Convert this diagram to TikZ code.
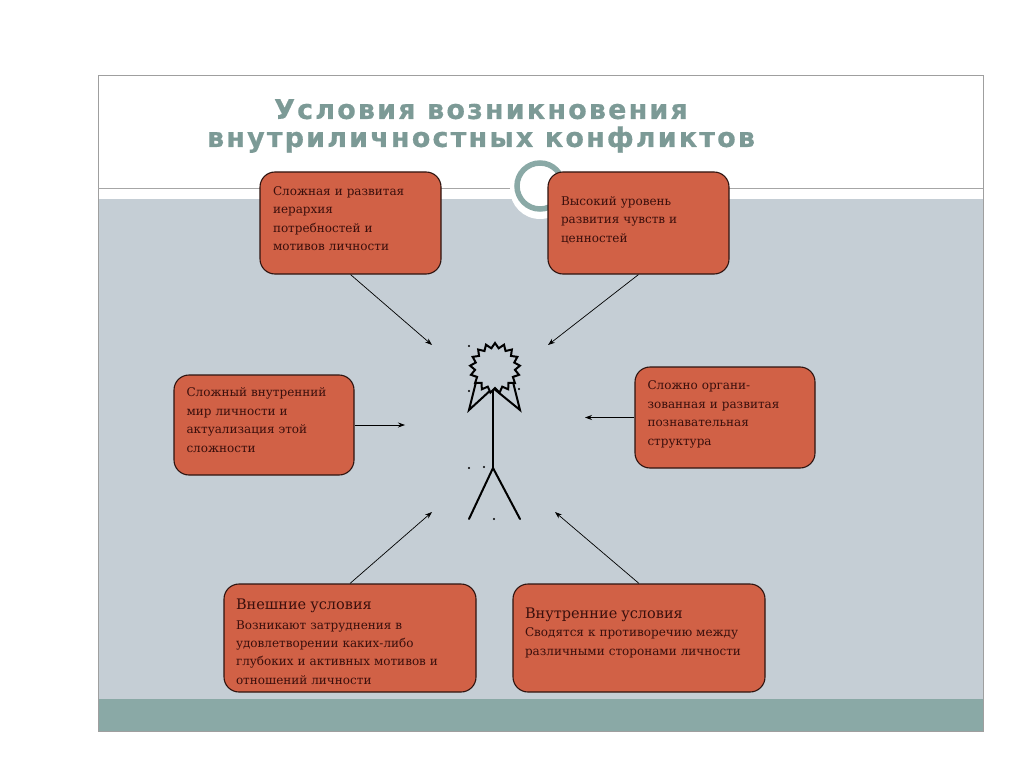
\documentclass[tikz,border=0pt]{standalone}
\usepackage{fontspec}
\setmainfont{DejaVu Serif}
\newfontfamily\titlefont[LetterSpace=8,FakeBold=0.6]{DejaVu Sans Bold}
\usetikzlibrary{shapes.geometric,arrows.meta}
\definecolor{slidegrey}{HTML}{C5CED5}
\definecolor{footteal}{HTML}{8AA9A6}
\definecolor{titleteal}{HTML}{7C9A96}
\definecolor{boxfill}{HTML}{D16146}
\definecolor{boxline}{HTML}{2E1410}
\definecolor{boxtext}{HTML}{3A0F0C}
\newcommand{\lastdepth}[1]{\rule[-#1pt]{0pt}{#1pt}}
\newcommand{\firstheight}[1]{\rule{0pt}{#1pt}}
\tikzset{
  cond/.style={draw=boxline,line width=1.1pt,fill=boxfill,rounded corners=15pt,inner sep=0pt,text=boxtext,font=\fontsize{12}{18.4}\selectfont,align=left},
  arr/.style={draw=black,line width=0.7pt,-{Stealth[length=7pt,width=5pt]}},
  fig/.style={draw=black,line width=2pt,line cap=round,line join=miter},
  speck/.style={circle,fill=black,inner sep=0pt,minimum size=2.2pt},
  titletext/.style={text=titleteal,font=\titlefont\fontsize{27}{28}\selectfont,align=center}
}
\begin{document}
\begin{tikzpicture}[x=1pt,y=-1pt]
\useasboundingbox (0,0) rectangle (1024,767);
\fill[white] (0,0) rectangle (1024,767);
% slide
\fill[slidegrey] (98,199) rectangle (983,699);
\fill[footteal] (98,699) rectangle (983,731);
\draw[gray!75,line width=1pt] (98,76) rectangle (983,731);
\draw[gray!70,line width=0.8pt] (98,188) -- (983,188);
\node[circle,fill=white,minimum size=60pt,inner sep=0pt] (ringback) at (540,189) {};
\node[circle,draw=footteal,line width=5.5pt,fill=white,minimum size=46pt,inner sep=0pt] (ring) at (540,186) {};
% title
\node[titletext] (title) at (481,126) {Условия возникновения\\внутриличностных конфликтов};
% boxes
\node[cond,minimum width=181pt,minimum height=102pt,text width=155pt] (tl) at (350.5,223) {Сложная и развитая\\иерархия\\потребностей и\\мотивов личности\lastdepth{9}};
\node[cond,minimum width=181pt,minimum height=102pt,text width=155pt] (tr) at (638.5,223) {Высокий уровень\\развития чувств и\\ценностей\lastdepth{7}};
\node[cond,minimum width=180pt,minimum height=100pt,text width=155pt] (lf) at (264,425) {Сложный внутренний\\мир личности и\\актуализация этой\\сложности\lastdepth{10}};
\node[cond,minimum width=180pt,minimum height=101pt,text width=155pt] (rt) at (725,417.5) {Сложно органи-\\зованная и развитая\\познавательная\\структура\lastdepth{9}};
\node[cond,minimum width=252pt,minimum height=108pt,text width=228pt] (bl) at (350,638) {\firstheight{18}{\fontsize{14.5}{18.4}\selectfont Внешние условия}\\[1pt]Возникают затруднения в\\удовлетворении каких-либо\\глубоких и активных мотивов и\\отношений личности};
\node[cond,minimum width=252pt,minimum height=108pt,text width=228pt] (br) at (639,638) {{\fontsize{14.5}{18.4}\selectfont Внутренние условия}\\Сводятся к противоречию между\\различными сторонами личности\lastdepth{13}};
% figure
\coordinate (neck) at (493,388);
\coordinate (hip) at (493,468);
\coordinate (footl) at (469,519);
\coordinate (footr) at (520,519);
\coordinate (rl1) at (476,382);
\coordinate (rl2) at (469,410);
\coordinate (rr1) at (513,382);
\coordinate (rr2) at (520,410);
\draw[fig] (neck) -- (hip);
\draw[fig] (footl) -- (hip) -- (footr);
\draw[fig] (rl1) -- (rl2) -- (neck) -- (rr2) -- (rr1);
\node[star,star points=17,star point ratio=1.25,draw=black,line width=2pt,fill=slidegrey,minimum size=50pt,inner sep=0pt] (head) at (495,368) {};
\node[speck] (s1) at (469,346) {};
\node[speck] (s2) at (469,391) {};
\node[speck] (s3) at (519,389) {};
\node[speck] (s4) at (469,468) {};
\node[speck] (s5) at (484,467) {};
\node[speck] (s6) at (494,519) {};
% arrow targets
\coordinate (atl) at (432,345);
\coordinate (atr) at (548,345);
\coordinate (alf) at (405,425);
\coordinate (art) at (585,417.5);
\coordinate (abl) at (432,512);
\coordinate (abr) at (555,512);
\draw[arr] (tl.south) -- (atl);
\draw[arr] (tr.south) -- (atr);
\draw[arr] (lf.east) -- (alf);
\draw[arr] (rt.west) -- (art);
\draw[arr] (bl.north) -- (abl);
\draw[arr] (br.north) -- (abr);
\end{tikzpicture}
\end{document}
